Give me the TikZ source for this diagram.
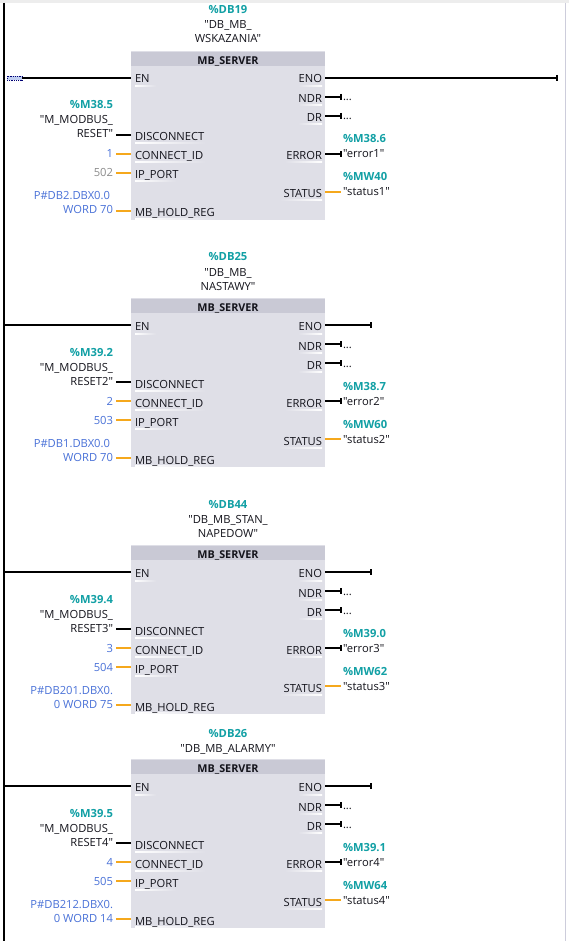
\documentclass[tikz,border=0pt]{standalone}
\usepackage{fontspec}
\setmainfont{Open Sans}[Ligatures=TeXOff]
\definecolor{blockfill}{HTML}{DFDFE7}
\definecolor{headfill}{HTML}{C9C9D5}
\definecolor{tealc}{HTML}{12A0A5}
\definecolor{bluec}{HTML}{4A72D8}
\definecolor{greyc}{HTML}{8C8C8C}
\definecolor{wireo}{HTML}{F5A81C}
\definecolor{edgec}{HTML}{CDCDDB}
\definecolor{inkc}{HTML}{14141C}
\tikzset{
 x=1pt,y=-1pt,
 every node/.style={inner sep=0pt,outer sep=0pt,yshift=-1pt,font=\fontsize{11.2}{11}\selectfont,text=inkc,anchor=base},
 blockbody/.style={fill=blockfill,draw=none,minimum width=194pt,minimum height=169pt,anchor=north west},
 blockhead/.style={fill=headfill,draw=none,minimum width=194pt,minimum height=14pt,anchor=north west},
 pinl/.style={anchor=base west},
 pinr/.style={anchor=base east},
 lab/.style={anchor=base east},
 labl/.style={anchor=base west},
 tealt/.style={text=tealc,font=\fontsize{11.2}{11}\selectfont\bfseries},
 bluet/.style={text=bluec},
 greyt/.style={text=greyc},
 bw/.style={draw=black,line width=2pt},
 ow/.style={draw=wireo,line width=2pt},
 tick/.style={draw=black,line width=1.4pt},
}
% #1 prefix, #2 y shift, #3 connect id, #4 its style, #5 port, #6 its style,
% #7 pointer line 1, #8 pointer line 2, #9 right edge of pointer line 1
\newcommand{\fblock}[9]{%
 \begin{scope}[shift={(0,#2)}]
  \node[blockbody] (#1b) at (131,50) {};
  \node[blockhead] (#1h) at (131,51) {};
  \node[font=\fontsize{10.8}{11}\selectfont\bfseries,anchor=center] (#1name) at (228,60) {MB\_SERVER};
  \foreach \yu/\xa/\xb in {87/135/156,144/135/206,163/135/206,182/135/176,219.5/135/216}{
   \shade[left color=white,right color=blockfill] (\xa,\yu) rectangle (\xb,\yu-1);
  }
  \foreach \yu/\xa/\xb in {87/298/322,106/298/322,125/298/322,163/285/322,201/280/322}{
   \shade[left color=blockfill,right color=white] (\xa,\yu) rectangle (\xb,\yu-1);
  }
  \foreach \ypin/\pname/\pid in {82/EN/en,140/DISCONNECT/dis,159/CONNECT\_ID/cid,178/IP\_PORT/ipp,216/MB\_HOLD\_REG/reg}{
   \node[pinl] (#1\pid) at (135,\ypin) {\pname};
  }
  \foreach \ypin/\pname/\pid in {82/ENO/eno,102/NDR/ndr,121/DR/dr,159/ERROR/err,197/STATUS/sta}{
   \node[pinr] (#1\pid) at (322,\ypin) {\pname};
  }
  \coordinate (#1pdis) at (131,134);
  \coordinate (#1pcid) at (131,153);
  \coordinate (#1pipp) at (131,172);
  \coordinate (#1preg) at (131,210);
  \coordinate (#1pndr) at (325,96);
  \coordinate (#1pdr) at (325,115);
  \coordinate (#1perr) at (325,153);
  \coordinate (#1psta) at (325,191);
  \coordinate (#1qdis) at (116,134);
  \coordinate (#1qcid) at (116,153);
  \coordinate (#1qipp) at (116,172);
  \coordinate (#1qreg) at (116,210);
  \coordinate (#1qndr) at (341,96);
  \coordinate (#1qdr) at (341,115);
  \coordinate (#1qerr) at (341,153);
  \coordinate (#1qsta) at (341,191);
  \path[bw] (#1pdis) -- (#1qdis);
  \path[ow] (#1pcid) -- (#1qcid);
  \path[ow] (#1pipp) -- (#1qipp);
  \path[ow] (#1preg) -- (#1qreg);
  \path[bw] (#1pndr) -- (#1qndr);
  \path[bw] (#1pdr) -- (#1qdr);
  \path[bw] (#1perr) -- (#1qerr);
  \path[ow] (#1psta) -- (#1qsta);
  \draw[tick] (#1qndr)+(0,-3) -- +(0,3);
  \draw[tick] (#1qdr)+(0,-3) -- +(0,3);
  \draw[tick] (#1qerr)+(0,-3) -- +(0,3);
  \node[labl] (#1dndr) at (343,100) {...};
  \node[labl] (#1ddr) at (343,119) {...};
  \node[lab,#4] (#1vcid) at (113,157) {#3};
  \node[lab,#6] (#1vipp) at (113,176) {#5};
  \node[lab,bluet] (#1ptra) at (#9,199) {#7};
  \node[lab,bluet] (#1ptrb) at (113,213) {#8};
 \end{scope}%
}
\begin{document}
\begin{tikzpicture}
\useasboundingbox (0,0) rectangle (569,941);
\fill[white] (0,0) rectangle (569,941);
\fill[black!7] (0,0) rectangle (569,3);
\draw[edgec,line width=1pt] (565,3) -- (565,941);
\draw[black,line width=2.2pt] (4,3) -- (4,941);

% Block 1
\fblock{a}{0}{1}{bluet}{502}{greyt}{P\#DB2.DBX0.0}{WORD 70}{110}
\node[tealt] (adb) at (228,13) {\%DB19};
\node (at1) at (228,28) {"DB\_MB\_};
\node (at2) at (228,42) {WSKAZANIA"};
\node[lab,tealt] (am) at (113,108) {\%M38.5};
\node[lab] (am1) at (113,123) {"M\_MODBUS\_};
\node[lab] (am2) at (113,137) {RESET"};
\node[labl,tealt] (ae) at (343,142) {\%M38.6};
\node[labl] (ae1) at (343,157) {"error1"};
\node[labl,tealt] (as) at (343,180) {\%MW40};
\node[labl] (as1) at (343,195) {"status1"};

% Block 2
\fblock{b}{247}{2}{bluet}{503}{bluet}{P\#DB1.DBX0.0}{WORD 70}{110}
\node[tealt] (bdb) at (228,259) {\%DB25};
\node (bt1) at (228,275) {"DB\_MB\_};
\node (bt2) at (228,289) {NASTAWY"};
\node[lab,tealt] (bm) at (113,355) {\%M39.2};
\node[lab] (bm1) at (113,370) {"M\_MODBUS\_};
\node[lab] (bm2) at (113,384) {RESET2"};
\node[labl,tealt] (be) at (343,389) {\%M38.7};
\node[labl] (be1) at (343,404) {"error2"};
\node[labl,tealt] (bs) at (343,427) {\%MW60};
\node[labl] (bs1) at (343,442) {"status2"};

% Block 3
\fblock{c}{494}{3}{bluet}{504}{bluet}{P\#DB201.DBX0.}{0 WORD 75}{113}
\node[tealt] (cdb) at (228,507) {\%DB44};
\node (ct1) at (228,522) {"DB\_MB\_STAN\_};
\node (ct2) at (228,536) {NAPEDOW"};
\node[lab,tealt] (cm) at (113,602) {\%M39.4};
\node[lab] (cm1) at (113,617) {"M\_MODBUS\_};
\node[lab] (cm2) at (113,631) {RESET3"};
\node[labl,tealt] (ce) at (343,636) {\%M39.0};
\node[labl] (ce1) at (343,651) {"error3"};
\node[labl,tealt] (cs) at (343,674) {\%MW62};
\node[labl] (cs1) at (343,689) {"status3"};

% Block 4
\fblock{d}{708}{4}{bluet}{505}{bluet}{P\#DB212.DBX0.}{0 WORD 14}{113}
\node[tealt] (ddb) at (228,736) {\%DB26};
\node (dt1) at (228,751) {"DB\_MB\_ALARMY"};
\node[lab,tealt] (dm) at (113,816) {\%M39.5};
\node[lab] (dm1) at (113,831) {"M\_MODBUS\_};
\node[lab] (dm2) at (113,845) {RESET4"};
\node[labl,tealt] (de) at (343,850) {\%M39.1};
\node[labl] (de1) at (343,865) {"error4"};
\node[labl,tealt] (ds) at (343,888) {\%MW64};
\node[labl] (ds1) at (343,903) {"status4"};

% Power rail connections
\node[draw=blue!45!black,densely dotted,fill=bluec!35,minimum width=15pt,minimum height=4pt,anchor=west,line width=.8pt] (start) at (7,77) {};
\coordinate (ain) at (131,77);
\coordinate (aout) at (325,77);
\coordinate (aend) at (557,77);
\path[bw] (start) -- (ain);
\path[bw] (aout) -- (aend);
\draw[tick] (aend)+(0,-3) -- +(0,3);
\foreach \p/\yy in {b/324,c/571,d/785}{
 \coordinate (\p rail) at (4,\yy);
 \coordinate (\p in) at (131,\yy);
 \coordinate (\p out) at (325,\yy);
 \coordinate (\p end) at (371,\yy);
 \path[bw] (\p rail) -- (\p in);
 \path[bw] (\p out) -- (\p end);
 \draw[tick] (\p end)+(0,-3) -- +(0,3);
}
\end{tikzpicture}
\end{document}
